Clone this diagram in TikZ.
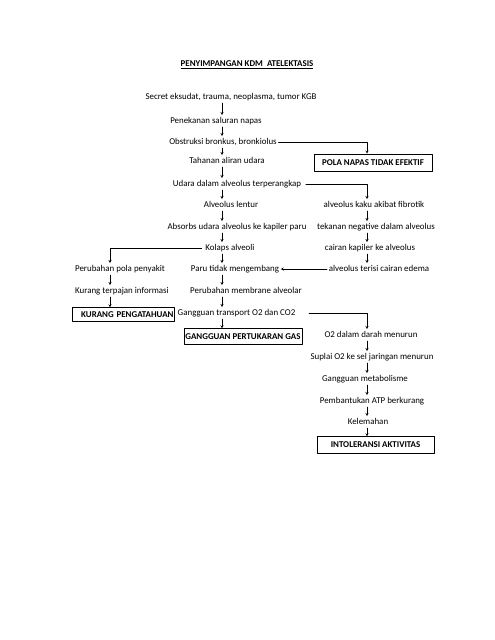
\documentclass[tikz,border=0pt]{standalone}
\usepackage{fontspec}
\setmainfont{Carlito}
\begin{document}
\begin{tikzpicture}[x=1pt, y=-1pt, font=\fontsize{8.9}{10}\selectfont, line join=round, line cap=round, >=stealth]
	\tikzset{teks/.style={inner sep=1.5pt, text height=6.5pt, text depth=2pt},
		kotak/.style={draw, line width=.7pt, font=\fontsize{8.9}{10}\selectfont\bfseries, inner sep=0pt}}
	\useasboundingbox (0,0) rectangle (495,640);
	\def\xkiri{110} \def\xtengah{222} \def\xkanan{367}
	\coordinate (kiri) at (\xkiri,0);
	\coordinate (tengah) at (\xtengah,0);
	\coordinate (kanan) at (\xkanan,0);
	% judul
	\node[font=\fontsize{8.9}{10}\selectfont\bfseries] (judul) at (247,65) {\underline{PENYIMPANGAN KDM\ \ ATELEKTASIS}};
	% kolom tengah
	\node[teks] (secret) at (231,97) {Secret eksudat, trauma, neoplasma, tumor KGB};
	\node[teks] (tekan) at (216,121) {Penekanan saluran napas};
	\node[teks] (obstruksi) at (223,142) {Obstruksi bronkus, bronkiolus};
	\node[teks] (tahanan) at (227,161) {Tahanan aliran udara};
	\node[teks] (udara) at (237,184) {Udara dalam alveolus terperangkap};
	\node[teks] (lentur) at (231,205) {Alveolus lentur};
	\node[teks] (absorbs) at (237,227) {Absorbs udara alveolus ke kapiler paru};
	\node[teks] (kolaps) at (230,248) {Kolaps alveoli};
	\node[teks] (paru) at (235,269) {Paru tidak mengembang};
	\node[teks] (membrane) at (246,291) {Perubahan membrane alveolar};
	\node[teks] (transport) at (236.5,313) {Gangguan transport O2 dan CO2};
	\node[kotak, minimum width=118, minimum height=15.5] (gas) at (243,336.5) {GANGGUAN PERTUKARAN GAS};
	% kolom kiri
	\node[teks] (pola) at (120,269) {Perubahan pola penyakit};
	\node[teks] (terpajan) at (122,291) {Kurang terpajan informasi};
	\node[kotak, minimum width=102, minimum height=13.5, text width=101, align=right] (tahu) at (123,314.5) {KURANG PENGATAHUAN};
	% kolom kanan
	\node[kotak, minimum width=118, minimum height=17] (napas) at (373,162.5) {POLA NAPAS TIDAK EFEKTIF};
	\node[teks] (kaku) at (374,205) {alveolus kaku akibat fibrotik};
	\node[teks] (negatif) at (376,227) {tekanan negative dalam alveolus};
	\node[teks] (cairan) at (370,248) {cairan kapiler ke alveolus};
	\node[teks] (edema) at (379,269) {alveolus terisi cairan edema};
	\node[teks] (darah) at (371,335) {O2 dalam darah menurun};
	\node[teks] (suplai) at (372,357) {Suplai O2 ke sel jaringan menurun};
	\node[teks] (metabolisme) at (365,379) {Gangguan metabolisme};
	\node[teks] (atp) at (372,401) {Pembantukan ATP berkurang};
	\node[teks] (lemah) at (368,422) {Kelemahan};
	\node[kotak, minimum width=117, minimum height=16.5] (intoleransi) at (375.5,445) {INTOLERANSI AKTIVITAS};
	% panah tengah
	\foreach \a/\b in {secret/tekan, tekan/obstruksi, obstruksi/tahanan, tahanan/udara, udara/lentur, lentur/absorbs, absorbs/kolaps, kolaps/paru, paru/membrane, membrane/transport, transport/gas}
		\draw[->] (\a.south -| tengah) -- (\b.north -| tengah);
	% panah kanan
	\foreach \a/\b in {kaku/negatif, negatif/cairan, cairan/edema, darah/suplai, suplai/metabolisme, metabolisme/atp, atp/lemah, lemah/intoleransi}
		\draw[->] (\a.south -| kanan) -- (\b.north -| kanan);
	% panah kiri
	\foreach \a/\b in {pola/terpajan, terpajan/tahu}
		\draw[->] (\a.south -| kiri) -- (\b.north -| kiri);
	% cabang
	\draw[->] (obstruksi.east) -| (napas.north -| kanan);
	\draw[->] ([xshift=3pt]udara.east) -| (kaku.north -| kanan);
	\draw[->] ([xshift=-2pt]kolaps.west) -| (pola.north -| kiri);
	\draw[->] (edema.west) -- (paru.east);
	\draw[->] ([xshift=12pt]transport.east) -| (darah.north -| kanan);
\end{tikzpicture}
\end{document}
